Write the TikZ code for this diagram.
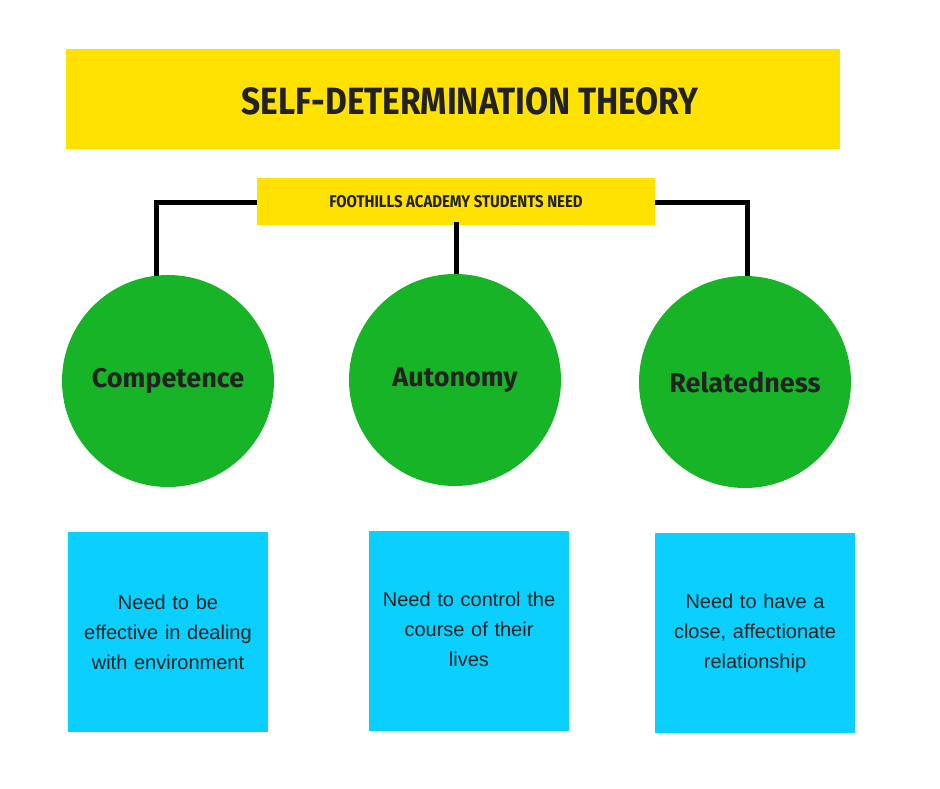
\documentclass[tikz,border=0pt]{standalone}
\usepackage{fontspec}
\setmainfont{Liberation Sans}
\newfontfamily\headfont{Fira Sans}
\definecolor{ylw}{HTML}{FFE200}
\definecolor{grn}{HTML}{18B427}
\definecolor{blu}{HTML}{0BD0FF}
\definecolor{ink}{HTML}{222222}
\begin{document}
\begin{tikzpicture}[x=1pt,y=-1pt,
  circ/.style={circle,fill=grn,minimum size=212pt,inner sep=0pt,text=ink,font=\headfont\bfseries\fontsize{27}{30}\selectfont},
  bbox/.style={fill=blu,minimum width=200pt,minimum height=200pt,inner sep=0pt,text=ink,align=center,text width=190pt,font=\fontsize{20}{30}\selectfont},
  conn/.style={line width=5pt}]
\useasboundingbox (0,0) rectangle (940,788);
\node[fill=ylw,minimum width=774pt,minimum height=100pt,inner sep=0pt] (title) at (453,99) {};
\node[text=ink,font=\headfont\bfseries\fontsize{38}{40}\selectfont] at (470,101) {\scalebox{0.88}[1]{SELF-DETERMINATION THEORY}};
\node[fill=ylw,minimum width=398pt,minimum height=47pt,inner sep=0pt,text=ink,font=\headfont\bfseries\fontsize{17}{20}\selectfont] (sub) at (456,201.5) {\scalebox{0.88}[1]{FOOTHILLS ACADEMY STUDENTS NEED}};
\node[circ] (c1) at (168,381) {Competence};
\node[circ] (c2) at (455,380) {Autonomy};
\node[circ] (c3) at (745,382) {Relatedness};
\draw[conn] (sub.west|-0,202) -- (156,202) -- (156,276);
\draw[conn] (456,222) -- (456,274);
\draw[conn] (sub.east|-0,202) -- (747,202) -- (747,276);
\node[bbox] (b1) at (168,632) {Need to be\\effective in dealing\\with environment};
\node[bbox] (b2) at (469,631) {Need to control the\\course of their\\lives\vphantom{p}\\[4pt]};
\node[bbox] (b3) at (755,633) {Need to have a\\close, affectionate\\relationship};
\end{tikzpicture}
\end{document}
